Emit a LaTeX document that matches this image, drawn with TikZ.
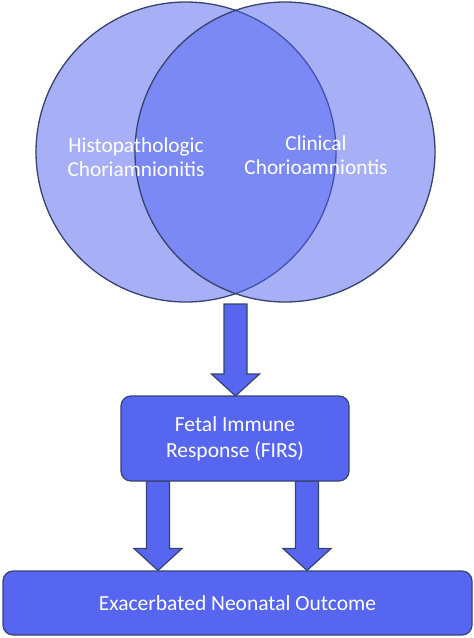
\documentclass[tikz,border=0pt]{standalone}
\usepackage{fontspec}
\setmainfont{Carlito}
\usetikzlibrary{calc}
\definecolor{vennfill}{RGB}{79,98,240}
\definecolor{boxfill}{RGB}{86,102,240}
\definecolor{edge}{RGB}{55,66,110}
\tikzset{
  venn/.style={circle, minimum size=300pt, inner sep=0pt, fill=vennfill, fill opacity=0.5, draw=edge, draw opacity=1, line width=1.3pt},
  lbl/.style={text=white, font=\fontsize{21.3}{24}\selectfont, align=center},
  flowbox/.style={rectangle, rounded corners=10pt, fill=boxfill, draw=edge, line width=1.2pt, text=white, font=\fontsize{21.5}{26}\selectfont, align=center, inner sep=0pt},
  blockarrow/.style={fill=boxfill, draw=edge, line width=1.2pt, line join=miter}
}
\newcommand\blockarr[2]{%
  \draw[blockarrow] ($(#1)+(-11.5,0)$) -- ($(#2)+(-11.5,-22)$) -- ($(#2)+(-24,-22)$) -- (#2)
    -- ($(#2)+(24,-22)$) -- ($(#2)+(11.5,-22)$) -- ($(#1)+(11.5,0)$) -- cycle;}
\begin{document}
\begin{tikzpicture}[x=1pt,y=-1pt]
\useasboundingbox (0,0) rectangle (474,638);
% Venn circles
\node[venn] (histo) at (186,152) {};
\node[venn] (clin) at (285,152) {};
\node[lbl] (histotxt) at (136,157) {Histopathologic\\Choriamnionitis};
\node[lbl] (clintxt) at (316,155) {Clinical\\Chorioamniontis};
% arrows
\coordinate (a1s) at (235.5,304);
\coordinate (a1t) at (235.5,396);
\coordinate (a2s) at (158,481);
\coordinate (a2t) at (158,570.5);
\coordinate (a3s) at (307,481);
\coordinate (a3t) at (307,570.5);
\blockarr{a1s}{a1t}
\blockarr{a2s}{a2t}
\blockarr{a3s}{a3t}
% boxes
\node[flowbox, minimum width=228pt, minimum height=85pt] (firs) at (235,438.5) {Fetal Immune\\Response (FIRS)};
\node[flowbox, minimum width=469pt, minimum height=64pt] (out) at (237.5,603) {Exacerbated Neonatal Outcome};
\end{tikzpicture}
\end{document}
